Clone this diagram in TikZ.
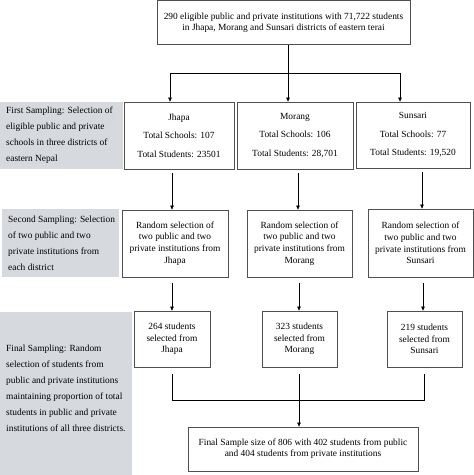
\documentclass[tikz,border=0pt]{standalone}
\usepackage{fontspec}
\setmainfont{Liberation Serif}
\usetikzlibrary{arrows.meta}
\definecolor{grayfill}{RGB}{214,217,221}
\definecolor{boxline}{RGB}{80,80,80}
\tikzset{
  wbox/.style={draw=boxline, line width=0.8pt, fill=white, inner sep=0pt, align=center},
  gbox/.style={fill=grayfill, inner sep=0pt},
  gtext/.style={anchor=west, inner sep=0pt, align=left, font=\fontsize{9.4}{16}\selectfont},
  arr/.style={-{Triangle[length=4pt,width=3.6pt]}, line width=0.7pt},
  conn/.style={line width=0.7pt},
  fA/.style={font=\fontsize{9.4}{18.5}\selectfont},
  fB/.style={font=\fontsize{9.4}{11.7}\selectfont},
  fC/.style={font=\fontsize{9.4}{11}\selectfont}
}
\begin{document}
\begin{tikzpicture}[x=1pt,y=-1pt]
\useasboundingbox (0,0) rectangle (474,475);
% top
\node[wbox, fC, minimum width=253, minimum height=44] (top) at (283.5,22.5)
  {290 eligible public and private institutions with 71,722 students\\in Jhapa, Morang and Sunsari districts of eastern terai};
% gray boxes
\node[gbox, minimum width=123, minimum height=67] (g1) at (61.5,135.5) {};
\node[gtext] (g1t) at (6,135.5) {First Sampling: Selection of\\eligible public and private\\schools in three districts of\\eastern Nepal};
\node[gbox, minimum width=117, minimum height=68] (g2) at (60.5,243) {};
\node[gtext] (g2t) at (8,243) {Second Sampling: Selection\\of two public and two\\private institutions from\\each district};
\node[gbox, minimum width=132, minimum height=163] (g3) at (66,393.5) {};
\node[gtext] (g3t) at (6,388) {Final Sampling: Random\\selection of students from\\public and private institutions\\maintaining proportion of total\\students in public and private\\institutions of all three districts.};
% row 1
\node[wbox, fA, minimum width=110, minimum height=67] (jh1) at (179,135.5) {Jhapa\\Total Schools: 107\\Total Students: 23501};
\node[wbox, fA, minimum width=116, minimum height=67] (mo1) at (295,135.5) {Morang\\Total Schools: 106\\Total Students: 28,701};
\node[wbox, fA, minimum width=114, minimum height=66] (ss1) at (413,135) {Sunsari\\Total Schools: 77\\Total Students: 19,520};
% row 2
\node[wbox, fB, minimum width=106, minimum height=67] (jh2) at (175,243.5) {Random selection of\\two public and two\\private institutions from\\Jhapa};
\node[wbox, fB, minimum width=105, minimum height=67] (mo2) at (299.5,243.5) {Random selection of\\two public and two\\private institutions from\\Morang};
\node[wbox, fB, minimum width=105, minimum height=68] (ss2) at (420.5,243) {Random selection of\\two public and two\\private institutions from\\Sunsari};
% row 3
\node[wbox, fB, minimum width=76, minimum height=56] (jh3) at (172,339) {264 students\\selected from\\Jhapa};
\node[wbox, fB, minimum width=75, minimum height=56] (mo3) at (299.5,339) {323 students\\selected from\\Morang};
\node[wbox, fB, minimum width=75, minimum height=56] (ss3) at (424.5,339) {219 students\\selected from\\Sunsari};
% final
\node[wbox, fC, minimum width=230, minimum height=44] (fin) at (303,449) {Final Sample size of 806 with 402 students from public\\and 404 students from private institutions};
% connectors
\coordinate (sA) at (170,73);
\coordinate (sB) at (288,73);
\coordinate (sC) at (400,73);
\draw[conn] (top.south -| sB) -- (sB);
\draw[conn] (sA) -- (sC);
\draw[arr] (sA) -- (sA |- jh1.north);
\draw[arr] (sB) -- (sB |- mo1.north);
\draw[arr] (sC) -- (sC |- ss1.north);
\coordinate (xJ) at (172,0);
\coordinate (xM) at (298,0);
\coordinate (xS) at (422,0);
\draw[arr, shorten <=4pt] (jh1.south -| xJ) -- (jh2.north -| xJ);
\draw[arr, shorten <=4pt] (mo1.south -| xM) -- (mo2.north -| xM);
\draw[arr, shorten <=4pt] (ss1.south -| xS) -- (ss2.north -| xS);
\coordinate (yJ) at (172,0);
\coordinate (yM) at (299,0);
\coordinate (yS) at (423,0);
\draw[arr, shorten <=6pt] (jh2.south -| yJ) -- (jh3.north -| yJ);
\draw[arr, shorten <=6pt] (mo2.south -| yM) -- (mo3.north -| yM);
\draw[arr, shorten <=6pt] (ss2.south -| yS) -- (ss3.north -| yS);
\coordinate (jn) at (299,400);
\coordinate (zS) at (424,0);
\draw[conn, shorten <=7pt, shorten >=7pt] (jh3.south -| yJ) -- (yJ |- jn) -- (zS |- jn) -- (ss3.south -| zS);
\draw[arr, shorten <=7pt] (mo3.south -| yM) -- (fin.north -| yM);
\end{tikzpicture}
\end{document}
